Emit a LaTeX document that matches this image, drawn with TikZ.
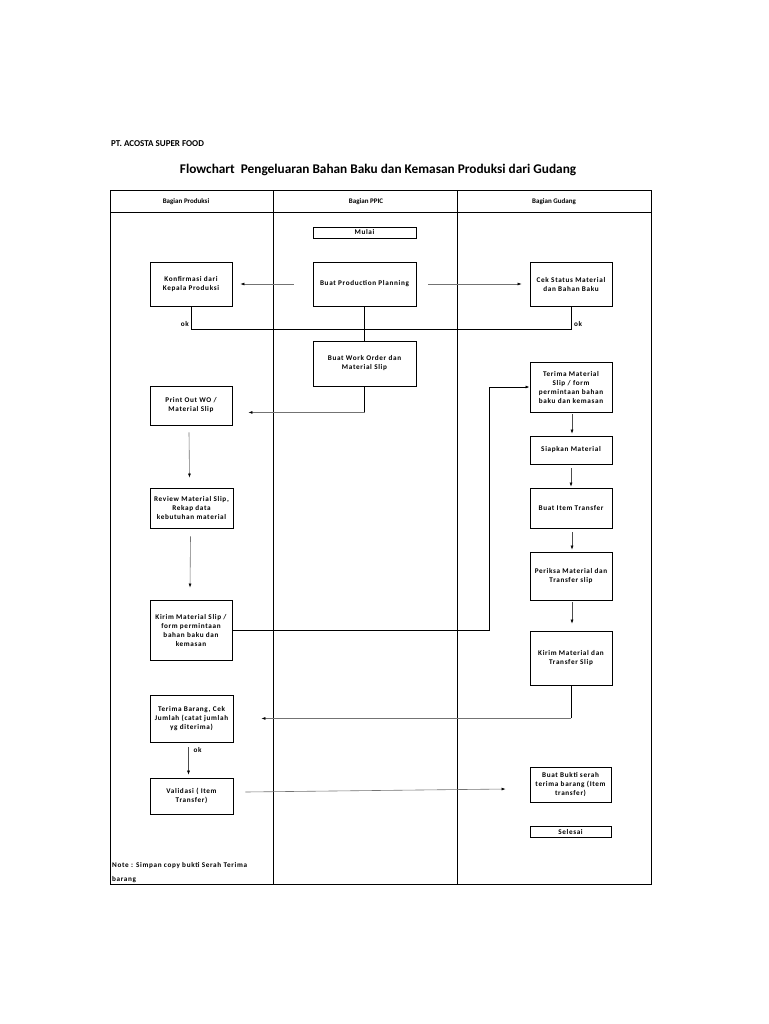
\documentclass[tikz,border=0pt]{standalone}
\usepackage{fontspec}
\setmainfont{Carlito}
\usetikzlibrary{arrows.meta}
\newcommand{\boxfont}{\fontsize{7.2}{9}\selectfont\bfseries\addfontfeature{LetterSpace=9}}
\begin{document}
\begin{tikzpicture}[x=1pt,y=-1pt,
  box/.style={draw, line width=0.9pt, inner sep=0pt, align=center, font=\boxfont},
  lbl/.style={inner sep=0pt, font=\boxfont},
  hdr/.style={inner sep=0pt, font=\fontsize{7}{9}\selectfont\bfseries},
  tbl/.style={line width=1pt},
  bline/.style={line width=0.9pt},
  barrow/.style={line width=0.9pt, -{Latex[length=4pt,width=3pt]}},
  garrow/.style={line width=0.6pt, draw=black!55, -{Latex[length=4pt,width=3pt,color=black]}},
  karrow/.style={line width=0.5pt, draw=black!70, -{Latex[length=4pt,width=3pt,color=black]}}
]
\useasboundingbox (0,0) rectangle (768,1024);
\fill[white] (0,0) rectangle (768,1024);

% heading texts
\node[anchor=west, inner sep=0pt, font=\fontsize{9}{11}\selectfont\bfseries] (pt) at (111,144) {PT. ACOSTA SUPER FOOD};
\node[inner sep=0pt, font=\fontsize{13.3}{15}\selectfont\bfseries] (title) at (378,170) {Flowchart\ \ Pengeluaran Bahan Baku dan Kemasan Produksi dari Gudang};

% table
\draw[tbl] (110,191) rectangle (651,884);
\draw[tbl] (110,213) -- (651,213);
\draw[tbl] (273,191) -- (273,884);
\draw[tbl] (457,191) -- (457,884);
\node[hdr] (h1) at (186,202) {Bagian Produksi};
\node[hdr] (h2) at (366,202) {Bagian PPIC};
\node[hdr] (h3) at (554,202) {Bagian Gudang};

% boxes
\node[box, minimum width=103pt, minimum height=11pt] (mulai) at (364.5,232.5) {Mulai};
\node[box, minimum width=103pt, minimum height=44pt] (bpp) at (364.5,284) {Buat Production Planning};
\node[box, minimum width=82pt, minimum height=44pt] (konf) at (191,284) {Konfirmasi dari\\Kepala Produksi};
\node[box, minimum width=82pt, minimum height=44pt] (cek) at (571,284) {Cek Status Material\\dan Bahan Baku};
\node[box, minimum width=103pt, minimum height=45pt] (bwo) at (364.5,363.5) {Buat Work Order dan\\Material Slip};
\node[box, minimum width=82pt, minimum height=39pt] (print) at (191,405.5) {Print Out WO /\\Material Slip};
\node[box, minimum width=82pt, minimum height=50pt] (terimam) at (571,387) {Terima Material\\Slip / form\\permintaan bahan\\baku dan kemasan};
\node[box, minimum width=82pt, minimum height=28pt] (siap) at (571,450) {Siapkan Material};
\node[box, minimum width=83pt, minimum height=40pt] (review) at (191.5,508) {Review Material Slip,\\Rekap data\\kebutuhan material};
\node[box, minimum width=82pt, minimum height=40pt] (item) at (571,508) {Buat Item Transfer};
\node[box, minimum width=82pt, minimum height=48pt] (periksa) at (571,576) {Periksa Material dan\\Transfer slip};
\node[box, minimum width=82pt, minimum height=60pt] (kirim) at (191,630) {Kirim Material Slip /\\form permintaan\\bahan baku dan\\kemasan};
\node[box, minimum width=82pt, minimum height=54pt] (kirimm) at (571,658) {Kirim Material dan\\Transfer Slip};
\node[box, minimum width=83pt, minimum height=47pt] (terimab) at (191.5,718.5) {Terima Barang, Cek\\Jumlah (catat jumlah\\yg diterima)};
\node[box, minimum width=83pt, minimum height=36pt] (valid) at (191.5,796) {Validasi ( Item\\Transfer)};
\node[box, minimum width=81pt, minimum height=35pt] (bukti) at (570.5,784.5) {Buat Bukti serah\\terima barang (Item\\transfer)};
\node[box, minimum width=81pt, minimum height=11pt] (selesai) at (570.5,831.5) {Selesai};

% note
\node[lbl, anchor=west] (note1) at (112,866) {Note : Simpan copy bukti Serah Terima};
\node[lbl, anchor=west] (note2) at (112,880) {barang};

% connectors
\draw[garrow] ([xshift=-19pt]bpp.west) -- ([xshift=8pt]konf.east);
\draw[garrow] ([xshift=12pt]bpp.east) -- ([xshift=-8pt]cek.west);
\draw[bline] (konf.south) -- ++(0,23) coordinate (okl) -| (cek.south);
\node[lbl, anchor=east] (ok1) at ([xshift=-2pt,yshift=5pt]okl) {ok};
\node[lbl, anchor=west] (ok2) at ([xshift=3pt,yshift=5pt]okl -| cek.south) {ok};
\draw[bline] (bpp.south) -- (bwo.north);
\draw[bline] (bwo.south) -- ++(0,26) coordinate (wo1);
\draw[garrow] (wo1) -- ([xshift=16pt]print.east |- wo1);
\draw[garrow] ([xshift=-2pt,yshift=-7pt]print.south) -- ([xshift=-2pt,yshift=10pt]review.north);
\draw[garrow] ([xshift=-1pt,yshift=-8pt]review.south) -- ([xshift=-1pt,yshift=12pt]kirim.north);
\draw[barrow] (kirim.east) -| ([xshift=-40pt]terimam.west) -- (terimam.west);
\draw[karrow] ([xshift=1pt,yshift=-2pt]terimam.south) -- ([xshift=1pt,yshift=2pt]siap.north);
\draw[karrow] ([yshift=-4pt]siap.south) -- ([yshift=1pt]item.north);
\draw[karrow] ([xshift=1pt,yshift=-4pt]item.south) -- ([xshift=1pt,yshift=2pt]periksa.north);
\draw[karrow] ([xshift=1pt,yshift=-2pt]periksa.south) -- ([xshift=1pt,yshift=7pt]kirimm.north);
\draw[bline] (kirimm.south) -- ++(0,33) coordinate (km1);
\draw[garrow] (km1) -- ([xshift=28pt]terimab.east |- km1);
\draw[karrow] ([xshift=-3pt,yshift=-5pt]terimab.south) -- ([xshift=-3pt,yshift=3pt]valid.north);
\node[lbl, anchor=west] (ok3) at ([xshift=2pt,yshift=-8pt]terimab.south) {ok};
\draw[garrow] ([xshift=12pt,yshift=4pt]valid.east) -- ([xshift=-24pt,yshift=-4.5pt]bukti.west);
\end{tikzpicture}
\end{document}
